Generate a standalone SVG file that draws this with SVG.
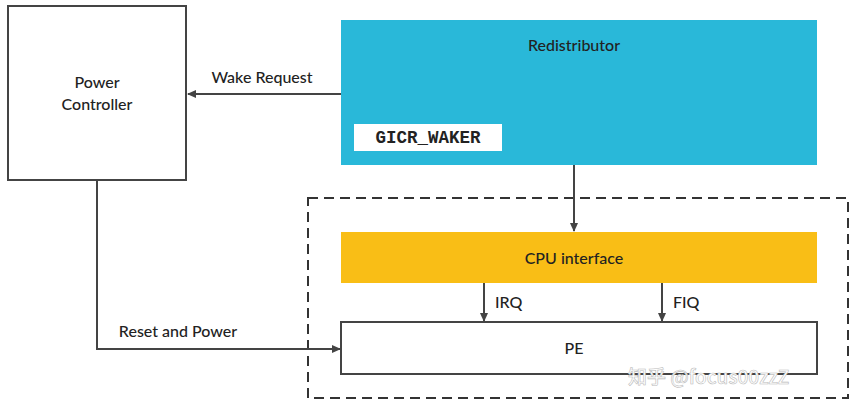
<svg xmlns="http://www.w3.org/2000/svg" width="865" height="411" viewBox="0 0 865 411">
<style>
text{font-family:"Lato","Liberation Sans",sans-serif;font-size:16px;font-weight:500;fill:#222}
.c{stroke:#444;stroke-width:2;fill:none}
</style>
<defs><marker id="a" markerWidth="10" markerHeight="10" refX="8" refY="5" orient="auto" markerUnits="userSpaceOnUse"><path d="M0,1 L9,5 L0,9 Z" fill="#444"/></marker></defs>
<rect width="865" height="411" fill="#fff"/>
<g id="power"><rect x="8" y="6" width="178" height="174" fill="#fff" stroke="#444" stroke-width="2"/><text x="97" y="88" text-anchor="middle">Power</text><text x="97" y="110" text-anchor="middle">Controller</text></g>
<g id="redistributor"><rect x="341" y="20" width="476" height="145" fill="#29B8D9"/><text x="574" y="51" text-anchor="middle">Redistributor</text>
<rect x="354" y="124" width="148" height="27" fill="#fff"/><text x="428" y="143" text-anchor="middle" style="font-family:'Liberation Mono',monospace;font-weight:bold;font-size:17.5px">GICR_WAKER</text></g>
<g id="cluster"><rect x="308" y="198" width="540" height="200" fill="none" stroke="#333" stroke-width="2" stroke-dasharray="10,6"/></g>
<g id="cpu"><rect x="341" y="232" width="476" height="51" fill="#F9BE16"/><text x="574" y="264" text-anchor="middle">CPU interface</text></g>
<g id="pe"><rect x="341" y="322" width="476" height="52" fill="#fff" stroke="#444" stroke-width="2"/><text x="574" y="354" text-anchor="middle">PE</text></g>
<g id="connectors">
<path class="c" d="M341,94 H188" marker-end="url(#a)"/><text x="262" y="83" text-anchor="middle">Wake Request</text>
<path class="c" d="M484,283 V321" marker-end="url(#a)"/><text x="495" y="308">IRQ</text>
<path class="c" d="M574,165 V231" marker-end="url(#a)"/>
<path class="c" d="M662,283 V321" marker-end="url(#a)"/><text x="673" y="308">FIQ</text>
<path class="c" d="M97,180 V349 H340" marker-end="url(#a)"/><text x="178" y="337" text-anchor="middle">Reset and Power</text>
</g>
<text x="628" y="384" style="font-family:'Noto Sans CJK SC',sans-serif;font-size:19px;fill:#fff;stroke:#bbb;stroke-width:0.6">知乎 @focus00zzZ</text>
</svg>
